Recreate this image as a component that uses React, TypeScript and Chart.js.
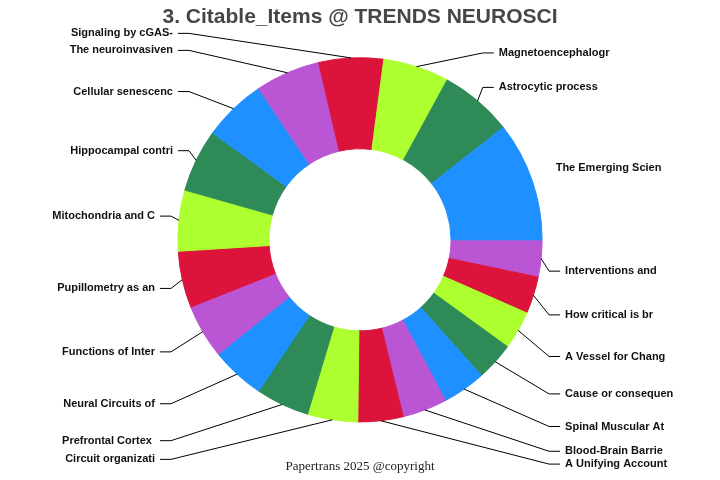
import { useEffect, useRef } from 'react';
import { Chart, registerables } from 'chart.js';

Chart.register(...registerables);

// articles, largest first (drawn counter-clockwise from 3 o'clock)
const titles = [
  'The Emerging Scien',
  'Astrocytic process',
  'Magnetoencephalogr',
  'Signaling by cGAS-',
  'The neuroinvasiven',
  'Cellular senescenc',
  'Hippocampal contri',
  'Mitochondria and C',
  'Pupillometry as an',
  'Functions of Inter',
  'Neural Circuits of',
  'Prefrontal Cortex ',
  'Circuit organizati',
  'A Unifying Account',
  'Blood-Brain Barrie',
  'Spinal Muscular At',
  'Cause or consequen',
  'A Vessel for Chang',
  'How critical is br',
  'Interventions and ',
];
const citations = [190, 116, 105, 103, 103, 101, 100, 97, 90, 86, 86, 85, 80, 72, 71, 69, 61, 61, 59, 59];
const palette = ['#1E90FF', '#2E8B57', '#ADFF2F', '#DC143C', '#BA55D3'];

const chartTitle = '3. Citable_Items @ TRENDS NEUROSCI';
const footer = 'Papertrans 2025 @copyright';

const LINE_LEN = 8;
const LINE_LEN2 = 11;
const TEXT_GAP = 5;

// vertical spread of the labels per quarter: y = cy + off + r * k * sin(mid)
const spread: Record<string, { k: number; off: number }> = {
  '1true': { k: 1.01, off: -12 },
  '1false': { k: 1.19, off: 9 },
  '-1true': { k: 1.146, off: 2 },
  '-1false': { k: 1.22, off: 0 },
};

const outsideLabels = {
  id: 'outsideLabels',
  afterDatasetsDraw(chart: Chart) {
    const meta = chart.getDatasetMeta(0);
    const labels = chart.data.labels as string[];
    const ctx = chart.ctx;

    const items = meta.data.map((el: any, i: number) => {
      const { x, y, startAngle, endAngle, outerRadius } = el.getProps(
        ['x', 'y', 'startAngle', 'endAngle', 'outerRadius'],
        true
      );
      const mid = (startAngle + endAngle) / 2;
      const cos = Math.cos(mid);
      const sin = Math.sin(mid);
      const side = cos >= 0 ? 1 : -1;
      const upper = sin < -0.2;
      const key = `${side}${upper}`;
      const s = spread[key];
      return {
        text: labels[i],
        side,
        key,
        big: endAngle - startAngle > Math.PI / 6,
        ax: x + outerRadius * cos,
        ay: y + outerRadius * sin,
        ex: x + (outerRadius + LINE_LEN) * cos,
        ty: y + s.off + outerRadius * s.k * sin,
      };
    });

    // elbows of one quarter line up at the farthest one
    const elbow: Record<string, number> = {};
    items.forEach((it) => {
      if (it.big) return;
      const cur = elbow[it.key];
      if (cur === undefined || (it.side > 0 ? it.ex > cur : it.ex < cur)) elbow[it.key] = it.ex;
    });

    ctx.save();
    ctx.font = 'bold 11px "Liberation Sans", Arial, sans-serif';
    ctx.textBaseline = 'middle';
    ctx.strokeStyle = '#000';
    ctx.lineWidth = 1;
    ctx.fillStyle = '#111';
    items.forEach((it) => {
      let tx: number;
      if (it.big) {
        tx = it.ex + it.side * (LINE_LEN2 + TEXT_GAP);
      } else {
        const bx = elbow[it.key];
        ctx.beginPath();
        ctx.moveTo(it.ax, it.ay);
        ctx.lineTo(bx, it.ty);
        ctx.lineTo(bx + it.side * LINE_LEN2, it.ty);
        ctx.stroke();
        tx = bx + it.side * (LINE_LEN2 + TEXT_GAP);
      }
      ctx.textAlign = it.side > 0 ? 'left' : 'right';
      ctx.fillText(it.text, tx, it.ty);
    });
    ctx.restore();
  },
};

export default function App() {
  const chartRef = useRef<HTMLCanvasElement | null>(null);

  useEffect(() => {
    let chart: Chart | null = null;
    if (chartRef.current) {
      const colors = citations.map((_, i) => palette[i % palette.length]);
      chart = new Chart(chartRef.current, {
        type: 'doughnut',
        data: {
          labels: [...titles].reverse(),
          datasets: [
            {
              data: [...citations].reverse(),
              backgroundColor: [...colors].reverse(),
              borderColor: [...colors].reverse(),
              borderWidth: 1,
            },
          ],
        },
        options: {
          animation: false,
          responsive: true,
          maintainAspectRatio: false,
          rotation: 90,
          cutout: '50%',
          layout: { padding: 0 },
          plugins: {
            legend: { display: false },
            tooltip: { enabled: false },
            title: {
              display: true,
              text: chartTitle,
              color: '#464646',
              font: { family: '"Liberation Sans", Arial, sans-serif', size: 21, weight: 'bold' },
              padding: { top: 5, bottom: 27 },
            },
            subtitle: {
              display: true,
              position: 'bottom',
              text: footer,
              color: '#222',
              font: { family: '"Liberation Serif", "Times New Roman", serif', size: 13, weight: 'normal' },
              padding: { top: 36, bottom: 6 },
            },
          },
        },
        plugins: [outsideLabels],
      });
    }
    return () => {
      if (chart) chart.destroy();
    };
  }, []);

  return (
    <div style={{ position: 'fixed', left: 0, top: 0, width: 720, height: 480, background: '#fff' }}>
      <canvas ref={chartRef}></canvas>
    </div>
  );
}
